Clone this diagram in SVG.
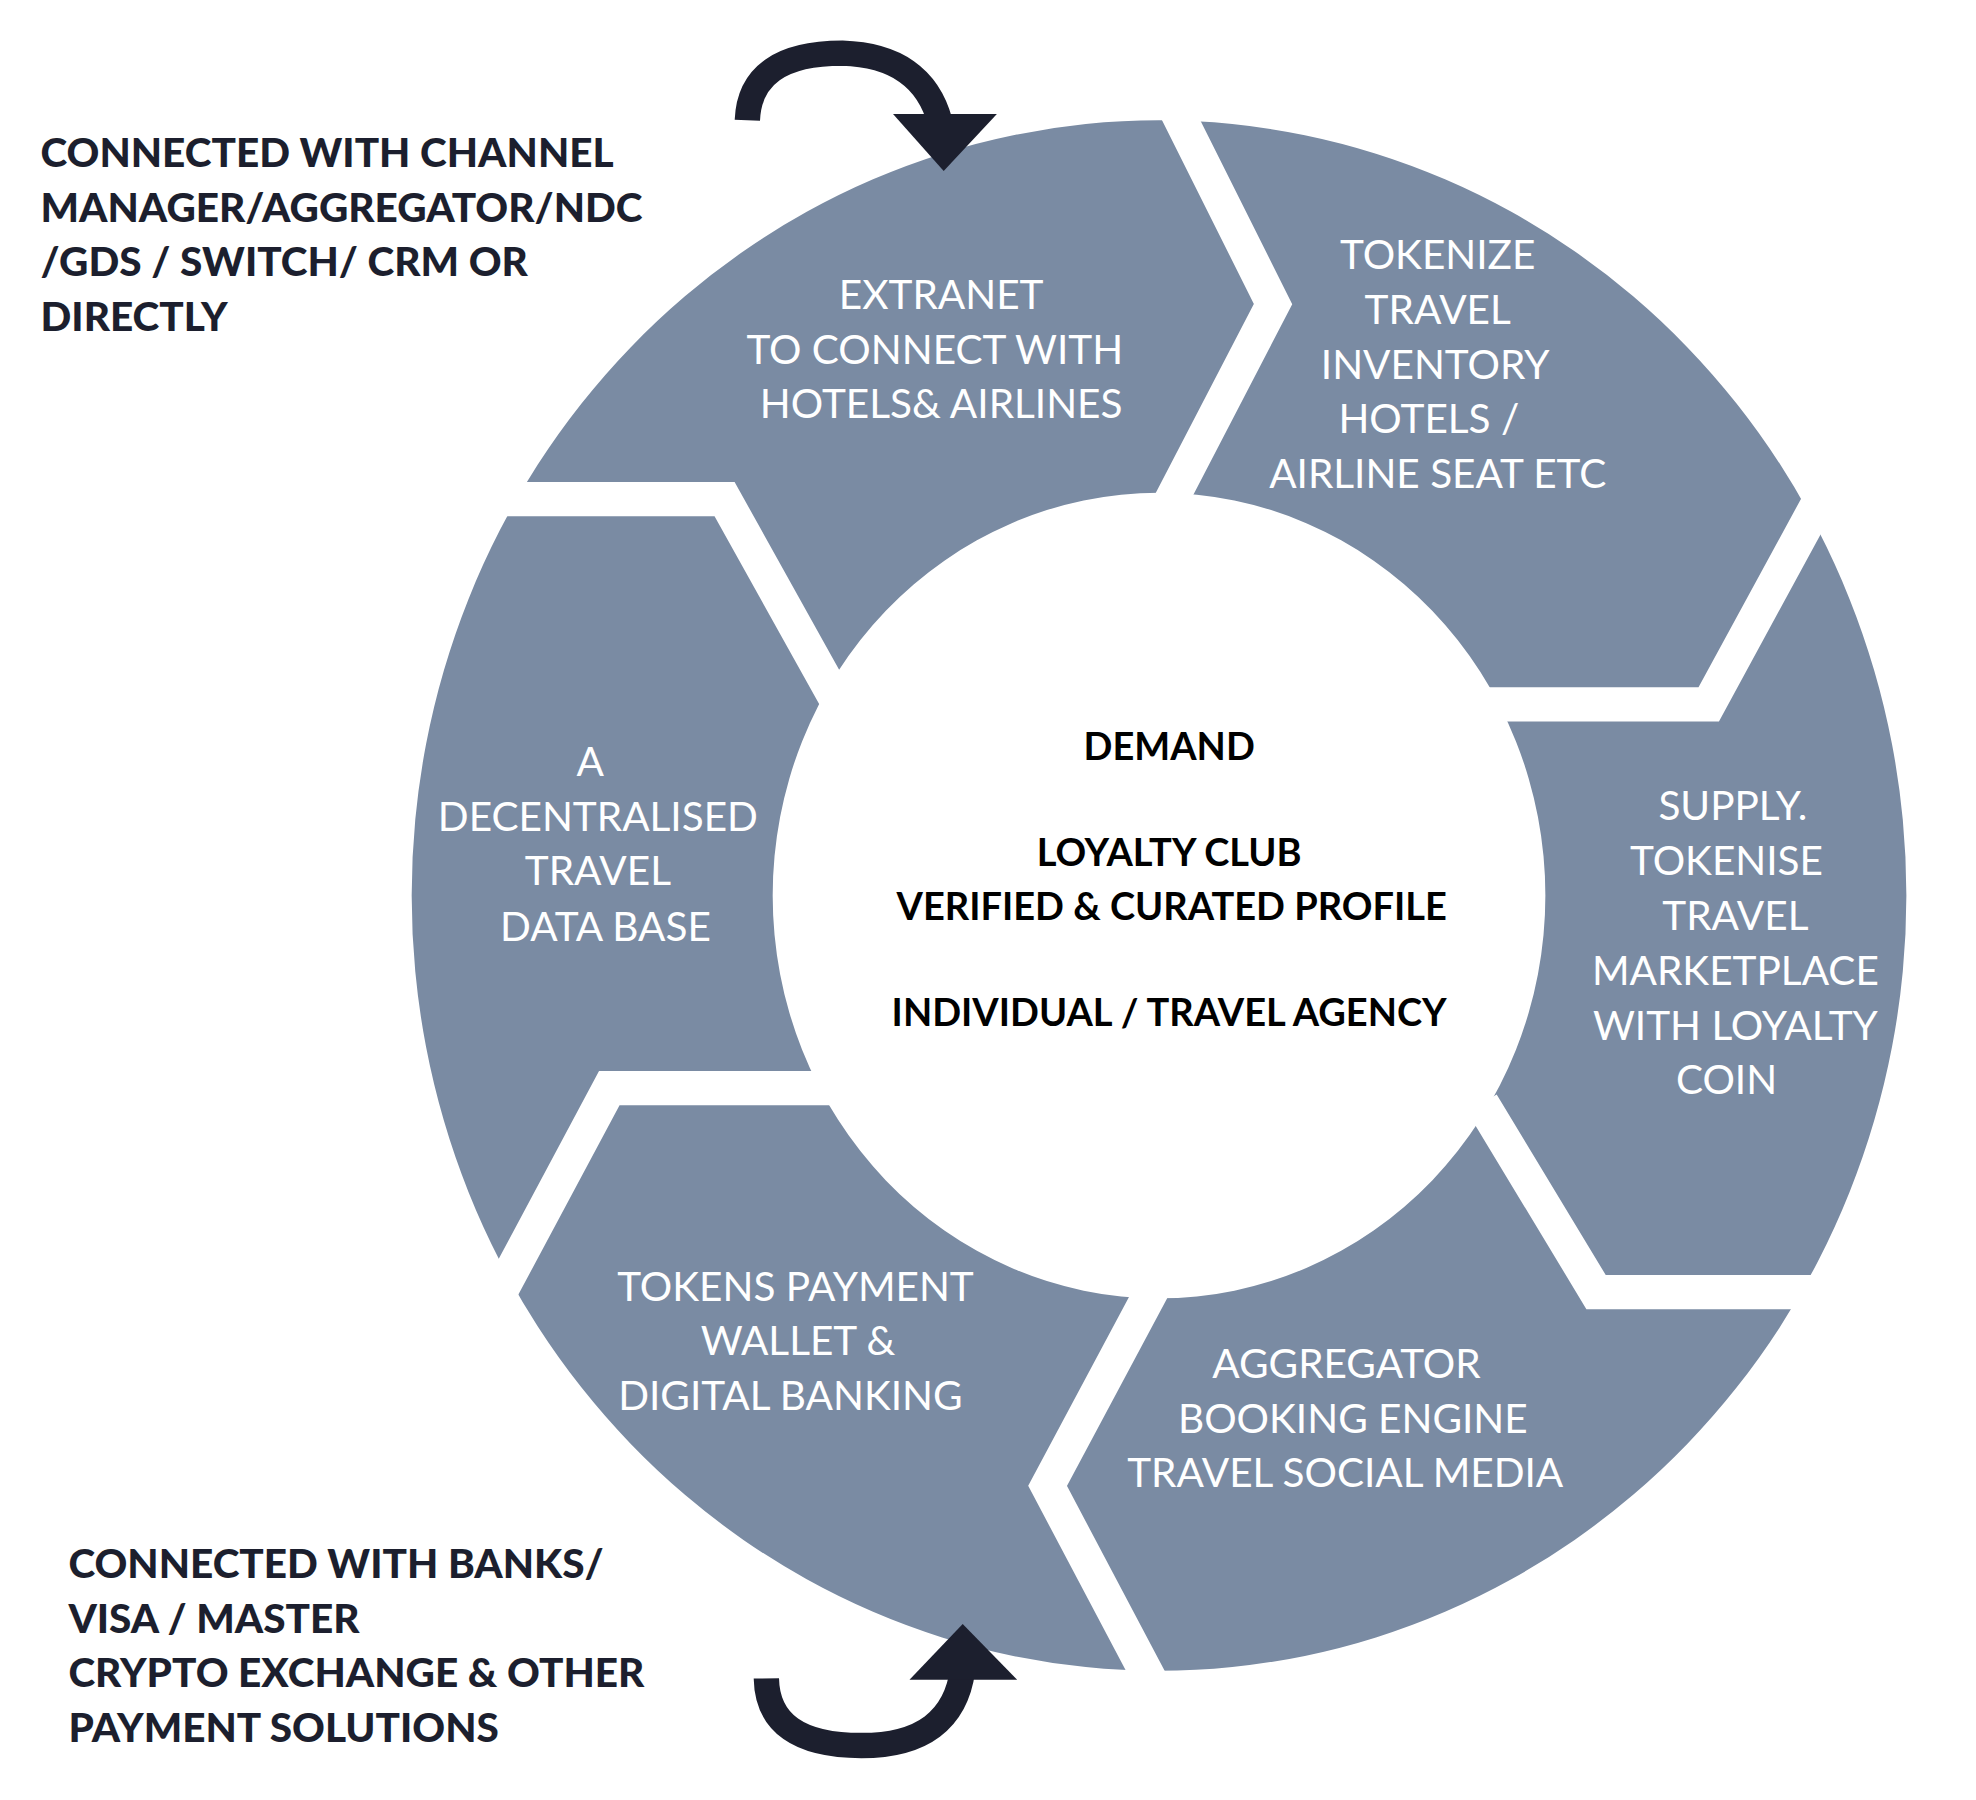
<svg xmlns="http://www.w3.org/2000/svg" width="1976" height="1800" viewBox="0 0 1976 1800">
<style>
.w{fill:#fff;font-family:Lato,"Open Sans",sans-serif;font-size:32px;text-anchor:middle}
.c{fill:#000;font-family:Lato,"Open Sans",sans-serif;font-weight:bold;font-size:30px;text-anchor:middle}
.k{fill:#1c1f2e;font-family:Lato,"Open Sans",sans-serif;font-weight:900;font-size:32px}
.gap{fill:none;stroke:#fff;stroke-width:27;stroke-linejoin:miter}
</style>
<rect width="1976" height="1800" fill="#fff"/>
<g transform="scale(1.2667)">
<g id="ring">
<path fill="#7a8ba3" fill-rule="evenodd" d="M325,707 a590,612 0 1,0 1180,0 a590,612 0 1,0 -1180,0 Z M610,707 a305,318 0 1,0 610,0 a305,318 0 1,0 -610,0 Z"/>
</g>
<g id="connectors">
<polyline class="gap" points="925,80 1005,240 922,400"/>
<polyline class="gap" points="1436,396 1349,556 1170,556"/>
<polyline class="gap" points="1170,871 1260,1020 1430,1020"/>
<polyline class="gap" points="913,1012 827,1173 910,1330"/>
<polyline class="gap" points="658,859 481,859 395,1020"/>
<polyline class="gap" points="400,394 572,394 660,552"/>
<path d="M590,95 Q592,42 665,42 Q728,44 742,96" fill="none" stroke="#1c1f2e" stroke-width="20"/>
<polygon points="705,90 787,90 745,135" fill="#1c1f2e"/>
<path d="M605,1325 Q606,1378 680,1378 Q752,1378 760,1318" fill="none" stroke="#1c1f2e" stroke-width="20"/>
<polygon points="718,1326 803,1326 760,1282" fill="#1c1f2e"/>
</g>
<g id="extranet"><text class="w" x="743" y="244">EXTRANET</text><text class="w" x="738" y="287">TO CONNECT WITH</text><text class="w" x="743" y="330">HOTELS&amp; AIRLINES</text></g>
<g id="tokenize"><text class="w" x="1135" y="212">TOKENIZE</text><text class="w" x="1135" y="256">TRAVEL</text><text class="w" x="1133" y="299">INVENTORY</text><text class="w" x="1128" y="342">HOTELS /</text><text class="w" x="1135" y="385">AIRLINE SEAT ETC</text></g>
<g id="supply"><text class="w" x="1368" y="647">SUPPLY.</text><text class="w" x="1363" y="691">TOKENISE</text><text class="w" x="1370" y="734">TRAVEL</text><text class="w" x="1370" y="778">MARKETPLACE</text><text class="w" x="1370" y="821">WITH LOYALTY</text><text class="w" x="1363" y="864">COIN</text></g>
<g id="aggregator"><text class="w" x="1063" y="1088">AGGREGATOR</text><text class="w" x="1068" y="1131">BOOKING ENGINE</text><text class="w" x="1062" y="1174">TRAVEL SOCIAL MEDIA</text></g>
<g id="tokens"><text class="w" x="628" y="1027">TOKENS PAYMENT</text><text class="w" x="630" y="1070">WALLET &amp;</text><text class="w" x="624" y="1113">DIGITAL BANKING</text></g>
<g id="database"><text class="w" x="466" y="613">A</text><text class="w" x="472" y="656">DECENTRALISED</text><text class="w" x="472" y="699">TRAVEL</text><text class="w" x="478" y="743">DATA BASE</text></g>
<g id="center"><text class="c" x="923" y="600">DEMAND</text><text class="c" x="923" y="684">LOYALTY CLUB</text><text class="c" x="925" y="726">VERIFIED &amp; CURATED PROFILE</text><text class="c" x="923" y="810">INDIVIDUAL / TRAVEL AGENCY</text></g>
<g id="note-top"><text class="k" x="32" y="132">CONNECTED WITH CHANNEL</text><text class="k" x="32" y="175">MANAGER/AGGREGATOR/NDC</text><text class="k" x="32" y="218">/GDS / SWITCH/ CRM OR</text><text class="k" x="32" y="261">DIRECTLY</text></g>
<g id="note-bottom"><text class="k" x="54" y="1246">CONNECTED WITH BANKS/</text><text class="k" x="54" y="1289">VISA / MASTER</text><text class="k" x="54" y="1332">CRYPTO EXCHANGE &amp; OTHER</text><text class="k" x="54" y="1375">PAYMENT SOLUTIONS</text></g>
</g>
</svg>
